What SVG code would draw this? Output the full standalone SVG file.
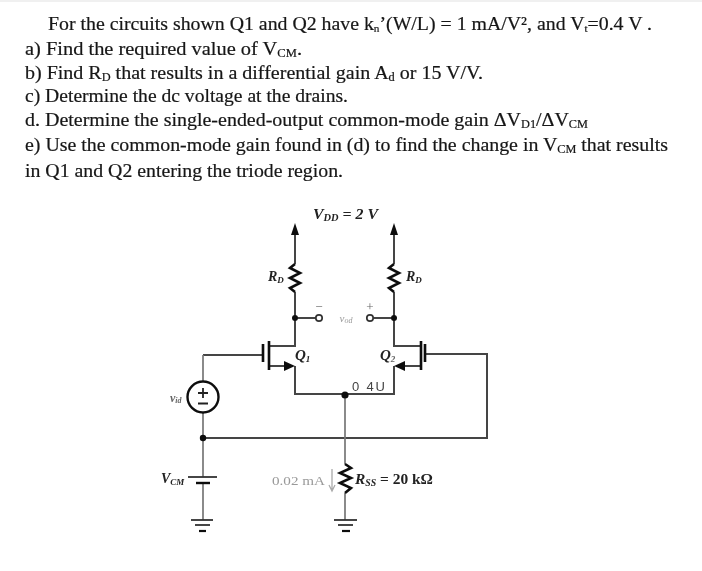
<svg xmlns="http://www.w3.org/2000/svg" width="702" height="571" viewBox="0 0 702 571">
<style>
.t{font-family:"Liberation Serif",serif;font-size:19.5px;fill:#151515;stroke:#151515;stroke-width:.2px}
.l{font-family:"Liberation Serif",serif;fill:#222}
.li{font-style:italic;font-weight:bold}
.w{fill:none;stroke:#444;stroke-width:2}
.h{fill:none;stroke:#777;stroke-width:1.7}
.k{fill:none;stroke:#111;stroke-width:2.6}
.d{fill:#111}
</style>
<defs><filter id="b" x="-2%" y="-2%" width="104%" height="104%"><feGaussianBlur stdDeviation="0.5"/></filter></defs>
<rect width="702" height="571" fill="#fff"/>
<rect width="702" height="2" fill="#f0f0f0"/>
<g filter="url(#b)">
<g id="problem-text">
<text class="t" x="48" y="30" textLength="604" lengthAdjust="spacingAndGlyphs">For the circuits shown Q1 and Q2 have k<tspan font-size="11" dy="2">n</tspan><tspan dy="-2">’(W/L) = 1 mA/V²</tspan>, and V<tspan font-size="11" dy="2">t</tspan><tspan dy="-2">=0.4 V .</tspan></text>
<text class="t" x="25" y="55" textLength="277" lengthAdjust="spacingAndGlyphs">a) Find the required value of V<tspan font-size="12" dy="2">CM</tspan><tspan dy="-2">.</tspan></text>
<text class="t" x="25" y="79" textLength="458" lengthAdjust="spacingAndGlyphs">b) Find R<tspan font-size="12" dy="2">D</tspan><tspan dy="-2"> that results in a differential gain A</tspan><tspan font-size="12" dy="2">d</tspan><tspan dy="-2"> or 15 V/V.</tspan></text>
<text class="t" x="25" y="102" textLength="323" lengthAdjust="spacingAndGlyphs">c) Determine the dc voltage at the drains.</text>
<text class="t" x="25" y="126" textLength="563" lengthAdjust="spacingAndGlyphs">d. Determine the single-ended-output common-mode gain ΔV<tspan font-size="12" dy="2">D1</tspan><tspan dy="-2">/ΔV</tspan><tspan font-size="12" dy="2">CM</tspan></text>
<text class="t" x="25" y="151" textLength="643" lengthAdjust="spacingAndGlyphs">e) Use the common-mode gain found in (d) to find the change in V<tspan font-size="12" dy="2">CM</tspan><tspan dy="-2"> that results</tspan></text>
<text class="t" x="25" y="177" textLength="318" lengthAdjust="spacingAndGlyphs">in Q1 and Q2 entering the triode region.</text>
</g>
<g id="connectors">
<path class="w" d="M295 232V264M295 292V346H269M394 232V264M394 292V346H421"/>
<path class="w" d="M295 318H315M394 318H374"/>
<path class="w" d="M203 355H263M425 354H487V438H203"/>
<path class="w" d="M269 366H288M295 366V394H394V366M421 366H401"/>
<path class="h" d="M203 355V381M203 413V477M203 483V520M345 395V464M345 493V520"/>
<path class="d" d="M295 223L291 235H299ZM394 223L390 235H398Z"/>
<path class="d" d="M295 366L284 361V371ZM394 366L405 361V371Z"/>
<circle class="d" cx="295" cy="318" r="3"/>
<circle class="d" cx="394" cy="318" r="3"/>
<circle class="d" cx="345" cy="395" r="3.6"/>
<circle class="d" cx="203" cy="438" r="3.2"/>
</g>
<g id="Q1"><path class="k" d="M269 341V370"/><path class="k" d="M263 344V362" stroke-width="1.8"/><text class="l li" font-size="15" x="295" y="360">Q<tspan font-size="9" dy="2">1</tspan></text></g>
<g id="Q2"><path class="k" d="M421 341V370"/><path class="k" d="M425 344V362" stroke-width="1.8"/><text class="l li" font-size="15" x="380" y="360">Q<tspan font-size="9" dy="2" fill="#666">2</tspan></text></g>
<g id="RD-left"><path class="k" d="M295 264L290 268L300 273L290 278L300 283L290 288L295 292"/><text class="l li" font-size="14" x="268" y="281">R<tspan font-size="9" dy="2">D</tspan></text></g>
<g id="RD-right"><path class="k" d="M394 264L389 268L399 273L389 278L399 283L389 288L394 292"/><text class="l li" font-size="14" x="406" y="281">R<tspan font-size="9" dy="2">D</tspan></text></g>
<g id="VDD-label"><text class="l li" font-size="14.500" x="313" y="219" textLength="65" lengthAdjust="spacingAndGlyphs">V<tspan font-size="9.500" dy="2">DD</tspan><tspan dy="-2"> = 2 V</tspan></text></g>
<g id="vod-terminals">
<circle cx="319" cy="318" r="3.200" fill="#fff" stroke="#333" stroke-width="1.700"/>
<circle cx="370" cy="318" r="3.200" fill="#fff" stroke="#333" stroke-width="1.700"/>
<text class="l" font-size="13" style="fill:#666" x="319" y="311" text-anchor="middle">−</text>
<text class="l" font-size="13" style="fill:#666" x="370" y="311" text-anchor="middle">+</text>
<text class="l" font-size="11" x="346" y="322" text-anchor="middle" style="fill:#999" font-style="italic">v<tspan font-size="8" dy="1">od</tspan></text>
</g>
<g id="note"><text font-family="Liberation Sans, sans-serif" font-size="13" x="352" y="391" fill="#444" textLength="33">0 4U</text></g>
<g id="vid-source">
<circle cx="203" cy="397" r="15.500" fill="#fff" stroke="#111" stroke-width="2.400"/>
<path d="M203 388V398M198 393H208M198 403.500H208" stroke="#222" stroke-width="1.800" fill="none"/>
<text class="l li" font-size="12" x="170" y="402" style="fill:#666">v<tspan font-size="8" dy="1">id</tspan></text>
</g>
<g id="VCM-battery">
<path d="M188 477H217" stroke="#333" stroke-width="1.800"/><path d="M196 483H210" stroke="#111" stroke-width="2.400"/>
<text class="l li" font-size="14" x="161" y="483">V<tspan font-size="9" dy="2">CM</tspan></text>
</g>
<g id="ground-left"><path d="M191 520H213" stroke="#333" stroke-width="1.800"/><path d="M195 525H210" stroke="#333" stroke-width="1.800"/><path d="M199 531H206" stroke="#111" stroke-width="2.200"/></g>
<g id="ground-right"><path d="M334 520H357" stroke="#333" stroke-width="1.800"/><path d="M338 525H353" stroke="#333" stroke-width="1.800"/><path d="M342 531H350" stroke="#111" stroke-width="2.200"/></g>
<g id="RSS">
<path class="k" d="M345 464L351 468L340 473L351 478L340 483L351 488L345 493"/>
<path d="M332 469V491M329 485L332 491L335 485" fill="none" stroke="#aaa" stroke-width="1.300"/>
<text class="l" font-size="13.500" x="272" y="485" style="fill:#999" textLength="53" lengthAdjust="spacingAndGlyphs">0.02 mA</text>
<text class="l li" font-size="15" x="355" y="484" textLength="78" lengthAdjust="spacingAndGlyphs">R<tspan font-size="9.500" dy="2">SS</tspan><tspan dy="-2" font-weight="bold" font-style="normal"> = 20 kΩ</tspan></text>
</g>
</g>
</svg>
